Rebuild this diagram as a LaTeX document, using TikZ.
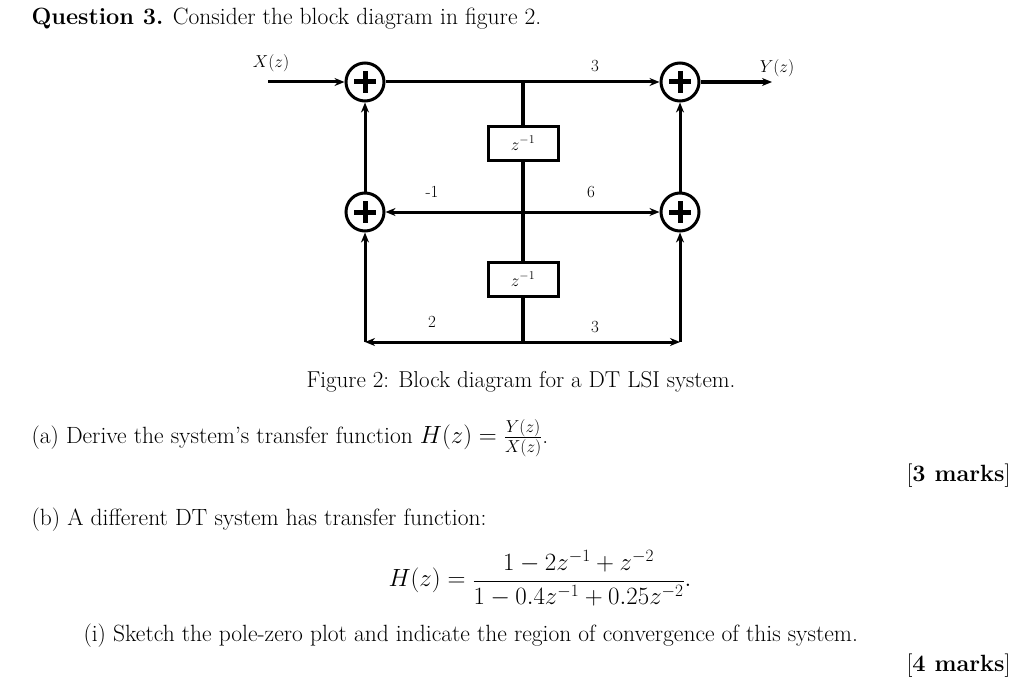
\documentclass[tikz,border=0pt]{standalone}
\usetikzlibrary{arrows.meta}
\begin{document}
\begin{tikzpicture}[x=1pt,y=-1pt,
  every node/.style={font=\fontsize{23.5}{27}\selectfont},
  sum/.style={circle,draw,line width=3pt,minimum size=38pt,inner sep=0pt},
  dly/.style={draw,line width=3pt,minimum width=70pt,minimum height=34pt,fill=white,font=\fontsize{17}{19}\selectfont},
  wire/.style={line width=3.4pt},
  arr/.style={line width=3pt,-{Stealth[length=10pt,width=8pt]}},
  lab/.style={font=\fontsize{17}{19}\selectfont}]
\useasboundingbox (0,0) rectangle (1024,682);
\foreach \n/\x/\y in {s1/365/82,s2/680/82,s3/365/212,s4/680/212}{
  \node[sum] (\n) at (\x,\y) {};
  \draw[line width=5pt] (\x-11,\y) -- (\x+11,\y) (\x,\y-11) -- (\x,\y+11);}
\coordinate (in) at (268,82);
\coordinate (out) at (772,82);
\coordinate (t) at (523,82);
\coordinate (m) at (523,212);
\coordinate (b) at (523,342);
\coordinate (bl) at (365,342);
\coordinate (br) at (680,342);
\draw[wire] (t) -- (b);
\node[dly] (d1) at (523,143) {$z^{-1}$};
\node[dly] (d2) at (523,279) {$z^{-1}$};
\draw[arr] (in) -- (s1);
\draw[arr,line width=4.5pt] (s2) -- (out);
\draw[arr] (s1) -- (s2);
\draw[arr] (m) -- (s3);
\draw[arr] (m) -- (s4);
\draw[arr] (b) -- (bl);
\draw[arr] (b) -- (br);
\draw[arr] (bl) -- (s3);
\draw[arr] (br) -- (s4);
\draw[arr] (s3) -- (s1);
\draw[arr] (s4) -- (s2);
\node[lab] (lx) at (271,63) {$X(z)$};
\node[lab] (ly) at (777,68) {$Y(z)$};
\node[lab] (l1) at (595,66) {3};
\node[lab] (l2) at (432,192) {-1};
\node[lab] (l3) at (591,192) {6};
\node[lab] (l4) at (432,322) {2};
\node[lab] (l5) at (595,327) {3};
\node[anchor=west] (q) at (28,19) {\textbf{Question 3.} Consider the block diagram in figure 2.};
\node[font=\fontsize{23}{27}\selectfont] (cap) at (521,382) {Figure 2: Block diagram for a DT LSI system.};
\node[anchor=west] (pa) at (28,438) {(a) Derive the system's transfer function $H(z)=\frac{Y(z)}{X(z)}$.};
\node[anchor=east] (m1) at (1014,476) {[\textbf{3 marks}]};
\node[anchor=west] (pb) at (28,520) {(b) A different DT system has transfer function:};
\node[font=\fontsize{23}{27}\selectfont] (eq) at (540,578) {$\displaystyle H(z)=\frac{1-2z^{-1}+z^{-2}}{1-0.4z^{-1}+0.25z^{-2}}.$};
\node[anchor=west] (pi) at (80,636) {(i) Sketch the pole-zero plot and indicate the region of convergence of this system.};
\node[anchor=east] (m2) at (1014,666) {[\textbf{4 marks}]};
\end{tikzpicture}
\end{document}
